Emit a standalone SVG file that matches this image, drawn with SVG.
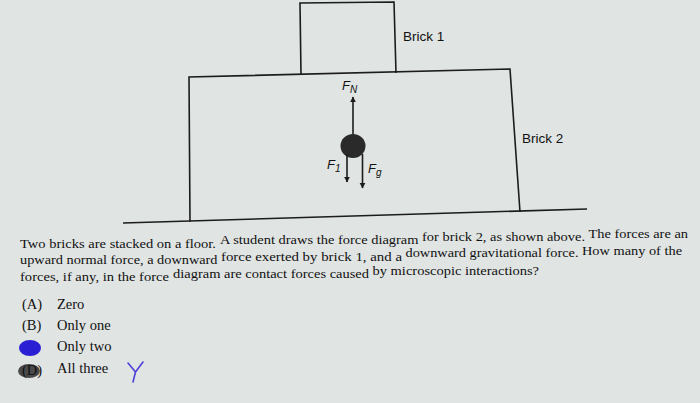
<svg xmlns="http://www.w3.org/2000/svg" width="700" height="403" viewBox="0 0 700 403">
<style>
.ln{stroke:#1c1c1c;stroke-width:1.6;fill:none}
.lbl{font-family:"Liberation Sans",Arial,sans-serif;font-size:13.5px;fill:#111}
.it{font-family:"Liberation Sans",Arial,sans-serif;font-style:italic;fill:#111}
.q{font-family:"Liberation Serif","Times New Roman",serif;font-size:13.5px;fill:#111}
.opt{font-family:"Liberation Serif","Times New Roman",serif;font-size:14.5px;fill:#111}
</style>
<defs>
<marker id="ah" viewBox="0 0 10 10" refX="9" refY="5" markerWidth="6" markerHeight="8.5" markerUnits="userSpaceOnUse" orient="auto">
<path d="M0,0 L10,5 L0,10 Z" fill="#1c1c1c"/>
</marker>
</defs>
<rect width="700" height="403" fill="#e0e4e3"/>
<g id="floor"><path class="ln" d="M123,223 L587,209"/></g>
<g id="brick2">
<path class="ln" d="M190,222 L189,77 L510,69 L520,212"/>
<text class="lbl" x="522" y="143">Brick 2</text>
</g>
<g id="brick1">
<path class="ln" d="M301,75 L300,3 L394,2 L396,73"/>
<text class="lbl" x="403" y="41">Brick 1</text>
</g>
<g id="particle"><ellipse cx="353" cy="146" rx="12.5" ry="12" fill="#2a2a2a"/></g>
<g id="connectors">
<line class="ln" x1="353" y1="134" x2="353" y2="97" stroke-width="1.3" marker-end="url(#ah)"/>
<line class="ln" x1="347" y1="154" x2="347" y2="182" stroke-width="1.3" marker-end="url(#ah)"/>
<line class="ln" x1="362.5" y1="154" x2="362.5" y2="188" stroke-width="1.3" marker-end="url(#ah)"/>
</g>
<g id="labels">
<text class="it" x="342" y="90" font-size="13">F<tspan font-size="10" dy="3">N</tspan></text>
<text class="it" x="327" y="169" font-size="13">F<tspan font-size="10" dy="3">1</tspan></text>
<text class="it" x="368" y="173" font-size="13">F<tspan font-size="10" dy="3">g</tspan></text>
</g>
<g id="question">
<text class="q" x="20" y="247.5" textLength="196" lengthAdjust="spacingAndGlyphs">Two bricks are stacked on a floor.</text>
<text class="q" x="220" y="244" textLength="198.5" lengthAdjust="spacingAndGlyphs">A student draws the force diagram</text>
<text class="q" x="422" y="240.5" textLength="163" lengthAdjust="spacingAndGlyphs">for brick 2, as shown above.</text>
<text class="q" x="588.5" y="238" textLength="99.5" lengthAdjust="spacingAndGlyphs">The forces are an</text>
<text class="q" x="20" y="264" textLength="197.5" lengthAdjust="spacingAndGlyphs">upward normal force, a downward</text>
<text class="q" x="221" y="260.5" textLength="181" lengthAdjust="spacingAndGlyphs">force exerted by brick 1, and a</text>
<text class="q" x="405.5" y="257" textLength="173" lengthAdjust="spacingAndGlyphs">downward gravitational force.</text>
<text class="q" x="582" y="254.5" textLength="100" lengthAdjust="spacingAndGlyphs">How many of the</text>
<text class="q" x="20" y="280.5" textLength="149" lengthAdjust="spacingAndGlyphs">forces, if any, in the force</text>
<text class="q" x="173" y="277.5" textLength="196" lengthAdjust="spacingAndGlyphs">diagram are contact forces caused</text>
<text class="q" x="372.5" y="274.5" textLength="166.5" lengthAdjust="spacingAndGlyphs">by microscopic interactions?</text>
</g>
<g id="options">
<text class="opt" x="22" y="309">(A)</text>
<text class="opt" x="57" y="309">Zero</text>
<text class="opt" x="22" y="330">(B)</text>
<text class="opt" x="57" y="330">Only one</text>
<ellipse cx="30" cy="348" rx="11" ry="8" fill="#2b1fd4"/>
<text class="opt" x="57" y="351">Only two</text>
<ellipse cx="29" cy="371" rx="11" ry="7" fill="#4a4a4a"/>
<text class="opt" x="22" y="375" fill="#222">(D)</text>
<text class="opt" x="57" y="373">All three</text>
<path d="M128,363 L135.5,372 L143,362 M135.5,372 L133,382" stroke="#4b3fd6" stroke-width="1.6" fill="none" stroke-linecap="round"/>
</g>
</svg>
